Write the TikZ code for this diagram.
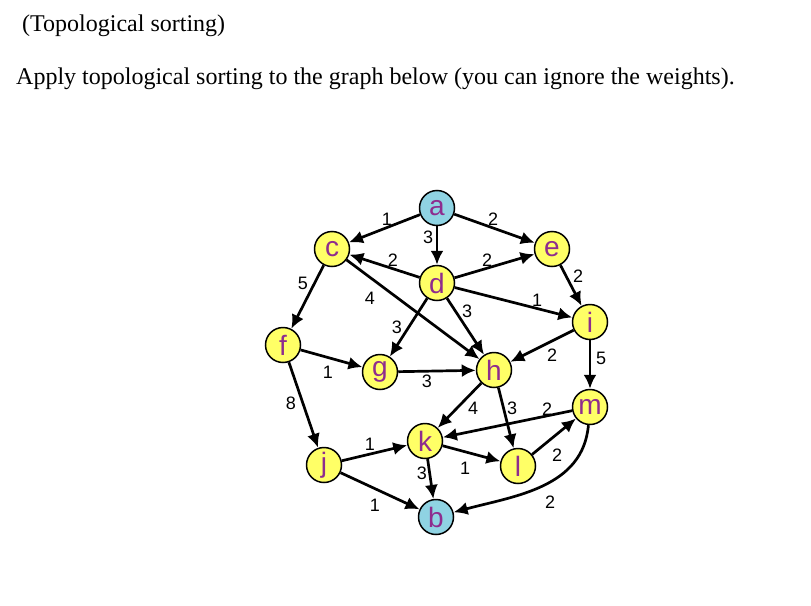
\documentclass[tikz,border=0pt]{standalone}
\usepackage{fontspec}
\setmainfont{Liberation Serif}
\newfontfamily\hv{Liberation Sans}
\usetikzlibrary{arrows.meta}
\definecolor{ylw}{HTML}{FFFF66}
\definecolor{blu}{HTML}{8FD3E3}
\definecolor{prp}{HTML}{8E2C8E}
\tikzset{
 vtx/.style={circle,draw=black,line width=1.5pt,fill=ylw,minimum size=35pt,inner sep=0pt,text=prp,font=\hv\fontsize{28}{28}\selectfont},
 src/.style={vtx,fill=blu},
 arr/.style={line width=2.7pt,-{Latex[length=14pt,width=13pt]}},
 lbl/.style={font=\hv\fontsize{18}{18}\selectfont,inner sep=0pt},
 txt/.style={anchor=base west,inner sep=0pt,font=\fontsize{24}{24}\selectfont}
}
\begin{document}
\begin{tikzpicture}[x=1pt,y=-1pt]
\useasboundingbox (0,0) rectangle (811,605);
\node[txt] (t1) at (22,31) {(Topological sorting)};
\node[txt] (t2) at (16,84) {Apply topological sorting to the graph below (you can ignore the weights).};
\node[src] (a) at (437,208) {a};
\node[vtx] (c) at (332,249) {c};
\node[vtx] (e) at (552,249) {e};
\node[vtx] (d) at (437,283) {d};
\node[vtx] (i) at (590,322) {i};
\node[vtx] (f) at (283,345) {f};
\node[vtx] (g) at (380,372) {g};
\node[vtx] (h) at (494,370) {h};
\node[vtx] (m) at (590,407) {m};
\node[vtx] (k) at (425,441) {k};
\node[vtx] (j) at (324,465) {j};
\node[vtx] (l) at (518,466) {l};
\node[src] (b) at (436,517) {b};
\draw[arr] (a)--(c); \draw[arr] (a)--(d); \draw[arr] (a)--(e);
\draw[arr] (d)--(c); \draw[arr] (d)--(e); \draw[arr] (c)--(f);
\draw[arr] (c)--(h); \draw[arr] (d)--(i); \draw[arr] (d)--(h);
\draw[arr] (d)--(g); \draw[arr] (e)--(i); \draw[arr] (i)--(h);
\draw[arr] (i)--(m); \draw[arr] (f)--(g); \draw[arr] (g)--(h);
\draw[arr] (f)--(j); \draw[arr] (h)--(k); \draw[arr] (h)--(l);
\draw[arr] (m)--(k); \draw[arr] (j)--(k); \draw[arr] (k)--(b);
\draw[arr] (k)--(l); \draw[arr] (l)--(m); \draw[arr] (j)--(b);
\draw[arr] (m) to[out=-95,in=15] (b);
\node[lbl] (w1) at (387,219) {1};
\node[lbl] (w2) at (428,237) {3};
\node[lbl] (w3) at (493,219) {2};
\node[lbl] (w4) at (393,260) {2};
\node[lbl] (w5) at (487,260) {2};
\node[lbl] (w6) at (303,283) {5};
\node[lbl] (w7) at (370,298) {4};
\node[lbl] (w8) at (537,300) {1};
\node[lbl] (w9) at (467,311) {3};
\node[lbl] (w10) at (397,327) {3};
\node[lbl] (w11) at (578,276) {2};
\node[lbl] (w12) at (552,355) {2};
\node[lbl] (w13) at (601,358) {5};
\node[lbl] (w14) at (328,372) {1};
\node[lbl] (w15) at (427,381) {3};
\node[lbl] (w16) at (291,403) {8};
\node[lbl] (w17) at (473,408) {4};
\node[lbl] (w18) at (512,408) {3};
\node[lbl] (w19) at (547,409) {2};
\node[lbl] (w20) at (370,444) {1};
\node[lbl] (w21) at (422,473) {3};
\node[lbl] (w22) at (465,468) {1};
\node[lbl] (w23) at (557,455) {2};
\node[lbl] (w24) at (375,505) {1};
\node[lbl] (w25) at (550,502) {2};
\end{tikzpicture}
\end{document}
